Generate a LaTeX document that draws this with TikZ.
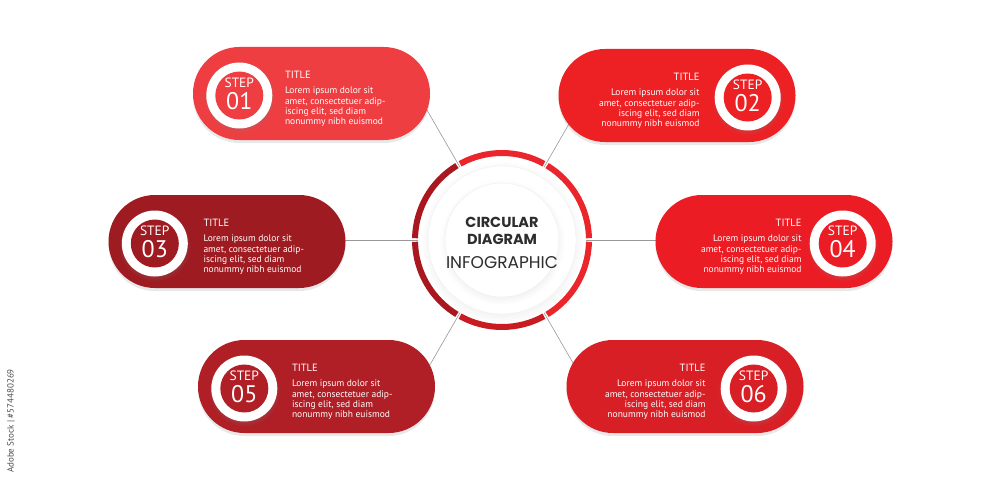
\documentclass[tikz,border=0pt]{standalone}
\usepackage{fontspec}
\setmainfont{PT Sans}
\newfontfamily\popfont{Poppins}
\usetikzlibrary{positioning,shapes.misc,shadows,calc}

\definecolor{redA}{RGB}{238,62,66}
\definecolor{redB}{RGB}{237,32,36}
\definecolor{redC}{RGB}{158,27,33}
\definecolor{redD}{RGB}{236,28,36}
\definecolor{redE}{RGB}{176,30,38}
\definecolor{redF}{RGB}{217,31,38}
\definecolor{ringDark}{RGB}{168,24,30}
\definecolor{ringMid}{RGB}{200,28,34}
\definecolor{ringLight}{RGB}{234,38,44}
\definecolor{textDark}{RGB}{45,45,45}

\newcommand{\loremtext}{Lorem ipsum dolor sit\\amet, consectetuer adip-\\iscing elit, sed diam\\nonummy nibh euismod}

\tikzset{
  pill/.style={rounded rectangle, minimum width=237pt, minimum height=93pt, inner sep=0pt,
    drop shadow={shadow xshift=0pt, shadow yshift=-3pt, opacity=0.18}},
  stepring/.style={circle, fill=white, minimum size=66pt, inner sep=0pt,
    circular drop shadow={shadow xshift=0pt, shadow yshift=-2pt, opacity=0.2}},
  stepdot/.style={circle, minimum size=48pt, inner sep=0pt},
  steplbl/.style={anchor=base, inner sep=0pt, text=white, font=\fontsize{13.5}{13.5}\selectfont},
  stepnum/.style={anchor=base, inner sep=0pt, text=white, font=\fontsize{24}{24}\selectfont},
  ttl/.style={inner sep=0pt, text=white, font=\fontsize{10.5}{10.5}\selectfont},
  txt/.style={inner sep=0pt, text=white, font=\fontsize{9.5}{10.4}\selectfont},
  link/.style={draw=black!40, line width=0.6pt},
  arcring/.style={line width=6pt},
  ctrbold/.style={inner sep=0pt, text=textDark, font=\popfont\bfseries\fontsize{14.5}{14.5}\selectfont},
  ctrlight/.style={inner sep=0pt, text=textDark, font=\popfont\fontsize{17}{17}\selectfont},
}

\begin{document}
\begin{tikzpicture}[x=1pt,y=1pt]
\fill[white] (0,0) rectangle (1000,483);
\useasboundingbox (0,0) rectangle (1000,483);

\coordinate (ctr) at (502,243);
\foreach \a in {0,60,...,300}{
  \coordinate (g\a) at ($(ctr)+(\a:84)$);
  \coordinate (e\a) at ($(ctr)+(\a:160)$);
}
\foreach \a in {0,60,...,300}
  \draw[link] (g\a) -- (e\a);

\node[circle, fill=white, draw=black!6, minimum size=148pt,
  circular drop shadow={shadow xshift=0pt, shadow yshift=-2pt, opacity=0.1}] (disc) at (ctr) {};
\node[circle, fill=white, draw=black!7, minimum size=114pt,
  circular drop shadow={shadow xshift=0pt, shadow yshift=-2pt, opacity=0.1}] (core) at (ctr) {};

\foreach \a/\c in {0/ringLight,60/ringLight,120/ringDark,180/ringDark,240/ringMid,300/ringLight}
  \draw[arcring, draw=\c] ($(ctr)+(\a+1.2:87)$) arc[start angle=\a+1.2, end angle=\a+58.8, radius=87];

\node[ctrbold] (cl1) at ([yshift=18pt]ctr) {CIRCULAR};
\node[ctrbold] (cl2) at ([yshift=1pt]ctr) {DIAGRAM};
\node[ctrlight] (cl3) at ([yshift=-23pt]ctr) {INFOGRAPHIC};

% left column
\node[pill, fill=redA] (pill01) at (311.5,389.5) {};
\node[stepring] (ring01) at ([xshift=46.5pt,yshift=-2pt]pill01.west) {};
\node[stepdot, fill=redA] (dot01) at (ring01) {};
\node[steplbl] at ([yshift=8pt]dot01.center) {STEP};
\node[stepnum] at ([yshift=-14pt]dot01.center) {01};
\node[ttl, anchor=base west] (ttl01) at ([xshift=92pt,yshift=15pt]pill01.west) {TITLE};
\node[txt, below=8pt of ttl01.south west, anchor=north west, align=left] (txt01) {\loremtext};

\node[pill, fill=redC] (pill03) at (227,241.5) {};
\node[stepring] (ring03) at ([xshift=46.5pt,yshift=-2pt]pill03.west) {};
\node[stepdot, fill=redC] (dot03) at (ring03) {};
\node[steplbl] at ([yshift=8pt]dot03.center) {STEP};
\node[stepnum] at ([yshift=-14pt]dot03.center) {03};
\node[ttl, anchor=base west] (ttl03) at ([xshift=95pt,yshift=15pt]pill03.west) {TITLE};
\node[txt, below=8pt of ttl03.south west, anchor=north west, align=left] (txt03) {\loremtext};

\node[pill, fill=redE] (pill05) at (316.5,96.5) {};
\node[stepring] (ring05) at ([xshift=46.5pt,yshift=-2pt]pill05.west) {};
\node[stepdot, fill=redE] (dot05) at (ring05) {};
\node[steplbl] at ([yshift=8pt]dot05.center) {STEP};
\node[stepnum] at ([yshift=-14pt]dot05.center) {05};
\node[ttl, anchor=base west] (ttl05) at ([xshift=94pt,yshift=15pt]pill05.west) {TITLE};
\node[txt, below=8pt of ttl05.south west, anchor=north west, align=left] (txt05) {\loremtext};

% right column
\node[pill, fill=redB] (pill02) at (677,387.5) {};
\node[stepring] (ring02) at ([xshift=-48pt,yshift=-2pt]pill02.east) {};
\node[stepdot, fill=redB] (dot02) at (ring02) {};
\node[steplbl] at ([yshift=8pt]dot02.center) {STEP};
\node[stepnum] at ([yshift=-14pt]dot02.center) {02};
\node[ttl, anchor=base east] (ttl02) at ([xshift=-96pt,yshift=15pt]pill02.east) {TITLE};
\node[txt, below=8pt of ttl02.south east, anchor=north east, align=right] (txt02) {\loremtext};

\node[pill, fill=redD] (pill04) at (774,241.5) {};
\node[stepring] (ring04) at ([xshift=-50pt,yshift=-2pt]pill04.east) {};
\node[stepdot, fill=redD] (dot04) at (ring04) {};
\node[steplbl] at ([yshift=8pt]dot04.center) {STEP};
\node[stepnum] at ([yshift=-14pt]dot04.center) {04};
\node[ttl, anchor=base east] (ttl04) at ([xshift=-91pt,yshift=15pt]pill04.east) {TITLE};
\node[txt, below=8pt of ttl04.south east, anchor=north east, align=right] (txt04) {\loremtext};

\node[pill, fill=redF] (pill06) at (685,96.5) {};
\node[stepring] (ring06) at ([xshift=-50pt,yshift=-2pt]pill06.east) {};
\node[stepdot, fill=redF] (dot06) at (ring06) {};
\node[steplbl] at ([yshift=8pt]dot06.center) {STEP};
\node[stepnum] at ([yshift=-14pt]dot06.center) {06};
\node[ttl, anchor=base east] (ttl06) at ([xshift=-98pt,yshift=15pt]pill06.east) {TITLE};
\node[txt, below=8pt of ttl06.south east, anchor=north east, align=right] (txt06) {\loremtext};

\node[rotate=90, inner sep=0pt, text=black!70, font=\fontsize{9}{9}\selectfont] (stock) at (11,62) {Adobe Stock | \#574480269};
\end{tikzpicture}
\end{document}
